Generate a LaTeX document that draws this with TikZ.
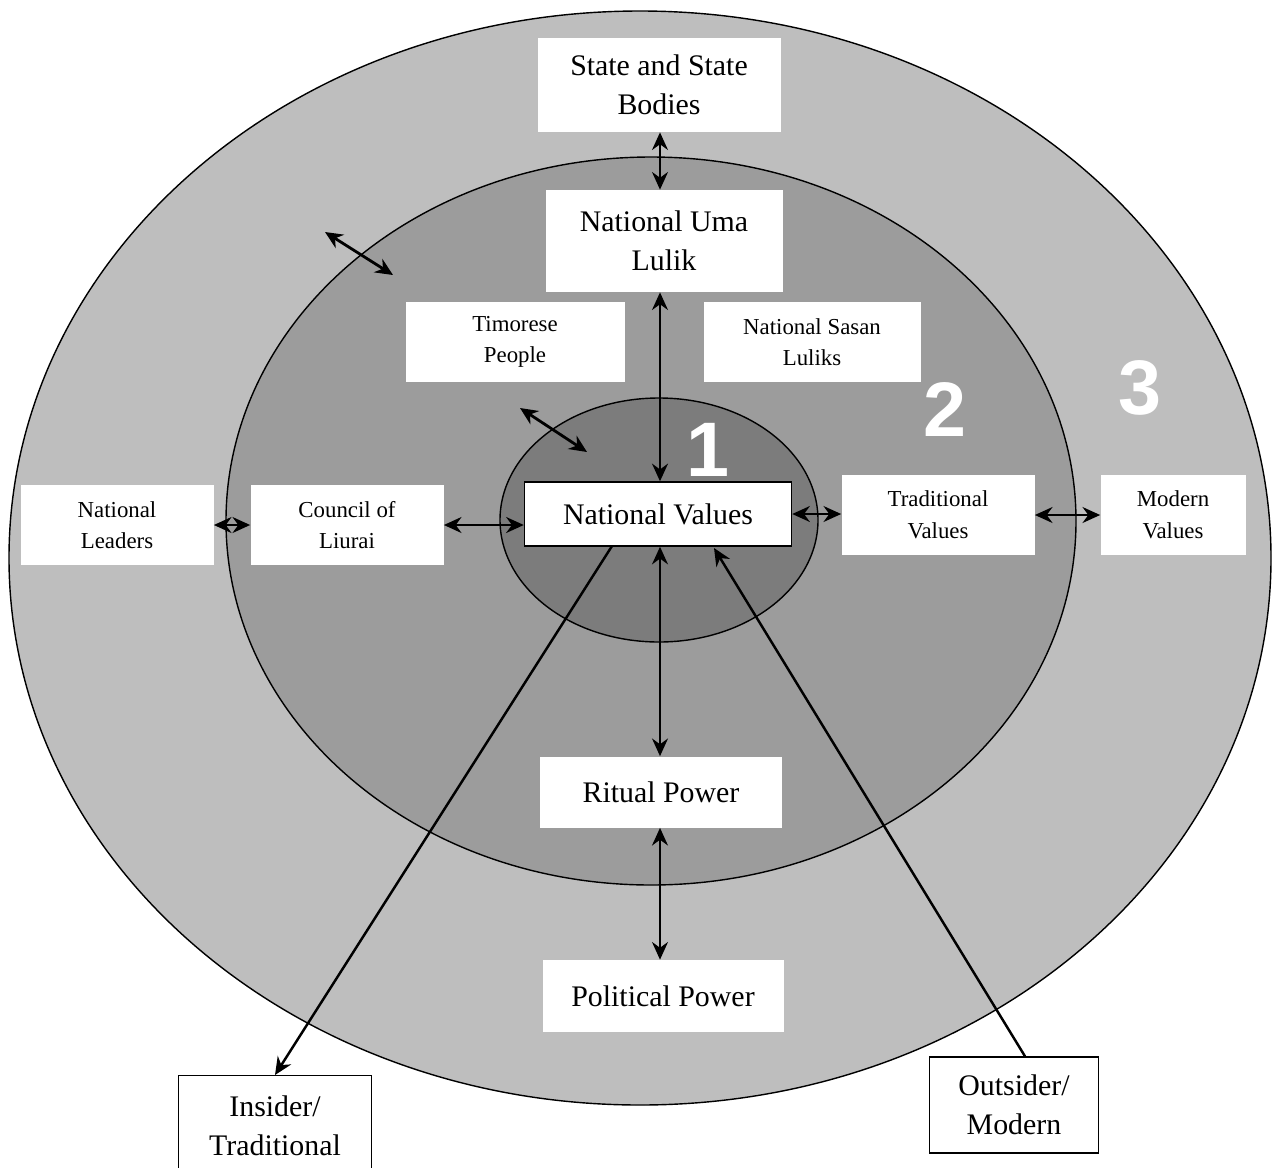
\documentclass[tikz,border=0pt]{standalone}
\usepackage{fontspec}
\setmainfont{Liberation Serif}
\setsansfont{Liberation Sans}
\usetikzlibrary{arrows.meta}
\definecolor{outerc}{HTML}{BEBEBE}
\definecolor{midc}{HTML}{9C9C9C}
\definecolor{innc}{HTML}{7C7C7C}
\tikzset{
 wbox/.style={fill=white,align=center,inner sep=0pt},
 bbox/.style={fill=white,draw=black,thick,align=center,inner sep=0pt},
 big/.style={font=\fontsize{17}{22}\selectfont},
 small/.style={font=\fontsize{13}{18}\selectfont},
 dar/.style={{Stealth[length=10pt,width=9pt]}-{Stealth[length=10pt,width=9pt]},line width=1.6pt},
 sar/.style={-{Stealth[length=10pt,width=9pt]},line width=1.4pt},
 num/.style={font=\sffamily\bfseries\fontsize{44}{44}\selectfont,text=white}
}
\begin{document}
\begin{tikzpicture}[x=0.02cm,y=-0.02cm]
\useasboundingbox (0,0) rectangle (1281,1167);
\fill[white] (0,0) rectangle (1281,1167);
\draw[fill=outerc,thick] (640,558) ellipse (631 and 547);
\draw[fill=midc,thick] (651,521) ellipse (425 and 364);
\draw[fill=innc,thick] (659,520) ellipse (159 and 122);
\node[num] at (708,450) {1};
\node[num] at (945,410) {2};
\node[num] at (1140,388) {3};
\node[wbox,big,minimum width=243*0.02cm,minimum height=94*0.02cm] (state) at (659,85) {State and State\\Bodies};
\node[wbox,big,minimum width=237*0.02cm,minimum height=102*0.02cm] (uma) at (664,241) {National Uma\\Lulik};
\node[wbox,small,minimum width=219*0.02cm,minimum height=80*0.02cm] (tim) at (515,342) {Timorese\\People};
\node[wbox,small,minimum width=217*0.02cm,minimum height=80*0.02cm] (sasan) at (812,342) {National Sasan\\Luliks};
\node[bbox,big,minimum width=267*0.02cm,minimum height=64*0.02cm] (val) at (658,514) {National Values};
\node[wbox,small,minimum width=193*0.02cm,minimum height=80*0.02cm] (lead) at (117,525) {National\\Leaders};
\node[wbox,small,minimum width=193*0.02cm,minimum height=80*0.02cm] (coun) at (347,525) {Council of\\Liurai};
\node[wbox,small,minimum width=193*0.02cm,minimum height=80*0.02cm] (trad) at (938,515) {Traditional\\Values};
\node[wbox,small,minimum width=145*0.02cm,minimum height=80*0.02cm] (mod) at (1173,515) {Modern\\Values};
\node[wbox,big,minimum width=242*0.02cm,minimum height=71*0.02cm] (rit) at (661,792) {Ritual Power};
\node[wbox,big,minimum width=241*0.02cm,minimum height=72*0.02cm] (pol) at (663,996) {Political Power};
\node[bbox,big,minimum width=193*0.02cm,minimum height=100*0.02cm,anchor=north] (ins) at (275,1075) {Insider/\\Traditional};
\node[bbox,big,minimum width=169*0.02cm,minimum height=96*0.02cm] (out) at (1014,1105) {Outsider/\\Modern};
\draw[dar] (state.south -| 660,0) -- (uma.north -| 660,0);
\draw[dar] (uma.south -| 660,0) -- (val.north -| 660,0);
\draw[dar] (val.south -| 660,0) -- (rit.north -| 660,0);
\draw[dar] (rit.south -| 660,0) -- (pol.north -| 660,0);
\draw[dar] (lead.east) -- (coun.west);
\draw[dar] (coun.east) -- (val.west |- coun.east);
\draw[dar] (val.east) -- (trad.west |- val.east);
\draw[dar] (trad.east) -- (mod.west);
\coordinate (a1) at (325,232); \coordinate (a2) at (393,275);
\coordinate (b1) at (520,408); \coordinate (b2) at (587,452);
\draw[dar] (a1) -- (a2);
\draw[dar] (b1) -- (b2);
\coordinate (vs) at (612,546);
\draw[sar] (vs) -- (ins.north);
\coordinate (vt) at (714,548);
\draw[sar] (out.north -| 1025,0) -- (vt);
\end{tikzpicture}
\end{document}
